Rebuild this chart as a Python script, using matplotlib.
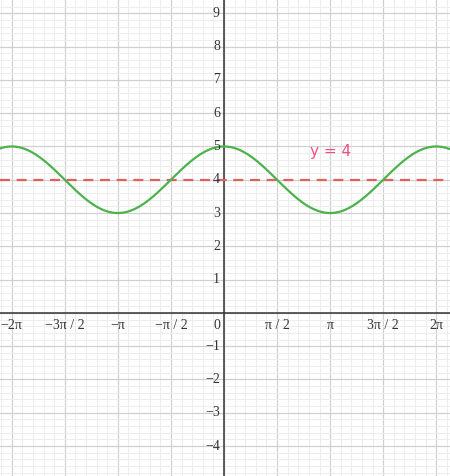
import numpy as np
import matplotlib.pyplot as plt

# tick values and labels
xticks = [-2*np.pi, -1.5*np.pi, -np.pi, -0.5*np.pi, 0.5*np.pi, np.pi, 1.5*np.pi, 2*np.pi]
xlabels = ["\u22122\u03c0", "\u22123\u03c0 / 2", "\u2212\u03c0", "\u2212\u03c0 / 2",
           "\u03c0 / 2", "\u03c0", "3\u03c0 / 2", "2\u03c0"]
yticks = [-4, -3, -2, -1, 1, 2, 3, 4, 5, 6, 7, 8, 9]
ylabels = ["\u22124", "\u22123", "\u22122", "\u22121", "1", "2", "3", "4", "5", "6", "7", "8", "9"]

# curve y = 4 + cos(x) and line y = 4
amp = 1.0
mid = 4.0
x = np.linspace(-7, 7, 1000)
y = mid + amp*np.cos(x)

fig = plt.figure(figsize=(4.5, 4.76), dpi=100)
ax = fig.add_axes([0, 0, 1, 1])
xmin, xmax = -6.63, 6.69
ymin, ymax = -4.9, 9.4
ax.set_xlim(xmin, xmax)
ax.set_ylim(ymin, ymax)
ax.axis('off')

# grid
for k in range(-45, 46):
    xv = k*np.pi/10
    if xmin < xv < xmax:
        major = (k % 5 == 0)
        ax.axvline(xv, color='#d0d0d0' if major else '#ededed', lw=0.9 if major else 0.7, zorder=0)
for k in range(-30, 60):
    yv = k*0.2
    if ymin < yv < ymax:
        major = (k % 5 == 0)
        ax.axhline(yv, color='#d0d0d0' if major else '#ededed', lw=0.9 if major else 0.7, zorder=0)

ax.axhline(0, color='#333333', lw=1.1, zorder=1)
ax.axvline(0, color='#333333', lw=1.1, zorder=1)

ax.plot(x, y, color='#4cb34c', lw=1.6, zorder=3)
ax.axhline(mid, color='#e06060', lw=1.6, ls=(0, (4.5, 3)), zorder=2)
ax.text(np.pi, 4.85, "y = 4", color='#f0507a', fontsize=11, ha='center', va='center', zorder=4)

font = dict(family='Liberation Serif', fontsize=10, color='#333333')
for xv, lab in zip(xticks, xlabels):
    ax.text(xv, -0.17, lab, ha='center', va='top', zorder=4, **font)
for yv, lab in zip(yticks, ylabels):
    ax.text(-0.12, yv, lab, ha='right', va='center', zorder=4, **font)
ax.text(-0.12, -0.17, "0", ha='right', va='top', zorder=4, **font)

fig.savefig("out.png", dpi=100)
